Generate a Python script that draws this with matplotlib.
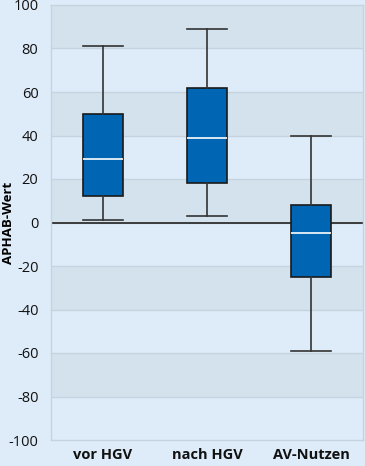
import matplotlib.pyplot as plt

categories = ["vor HGV", "nach HGV", "AV-Nutzen"]
whisker_low = [1, 3, -59]
q1 = [12, 18, -25]
median = [29, 39, -5]
q3 = [50, 62, 8]
whisker_high = [81, 89, 40]
y_ticks = [-100, -80, -60, -40, -20, 0, 20, 40, 60, 80, 100]

plt.rcParams["font.family"] = ["Open Sans", "DejaVu Sans"]
plt.rcParams["axes.unicode_minus"] = False

bg = "#deebf8"
band = "#d4e2ee"
box_col = "#0066b3"

stats = []
for i, name in enumerate(categories):
    stats.append({
        "label": name,
        "whislo": whisker_low[i],
        "q1": q1[i],
        "med": median[i],
        "q3": q3[i],
        "whishi": whisker_high[i],
        "fliers": [],
    })

fig = plt.figure(figsize=(3.65, 4.66), dpi=100, facecolor=bg)
ax = fig.add_axes([51 / 365, 26 / 466, 312 / 365, 435 / 466])
ax.set_facecolor(bg)

# abwechselnde Bänder
for k, lo in enumerate(range(-100, 100, 20)):
    if k % 2 == 1:
        ax.axhspan(lo, lo + 20, color=band, zorder=0, lw=0)
for t in y_ticks[1:-1]:
    ax.axhline(t, color="#c5d3df", lw=1, zorder=0.5)
ax.axhline(0, color="#222222", lw=1.2, zorder=1)

ax.bxp(stats, positions=[1, 2, 3], widths=0.38, patch_artist=True,
       boxprops=dict(facecolor=box_col, edgecolor="#1a1a1a", lw=1.2),
       medianprops=dict(color="white", lw=1.2),
       whiskerprops=dict(color="#333333", lw=1.2),
       capprops=dict(color="#333333", lw=1.2),
       capwidths=0.38, zorder=2)

ax.set_xlim(0.5, 3.5)
ax.set_ylim(-100, 100)
ax.set_yticks(y_ticks)
ax.set_xticks([1, 2, 3])
ax.set_xticklabels(categories, fontweight="bold", fontsize=9.5)
ax.tick_params(axis="both", length=0, labelsize=10.5, colors="#111111", pad=9)
ax.tick_params(axis="x", pad=6)
for s in ax.spines.values():
    s.set_color("#c5d3df")
    s.set_linewidth(1)

ax.set_ylabel("APHAB-Wert", fontweight="bold", fontsize=9.5)
ax.yaxis.set_label_coords(-0.115, 0.5)

fig.savefig("out.png", dpi=100, facecolor=bg)
